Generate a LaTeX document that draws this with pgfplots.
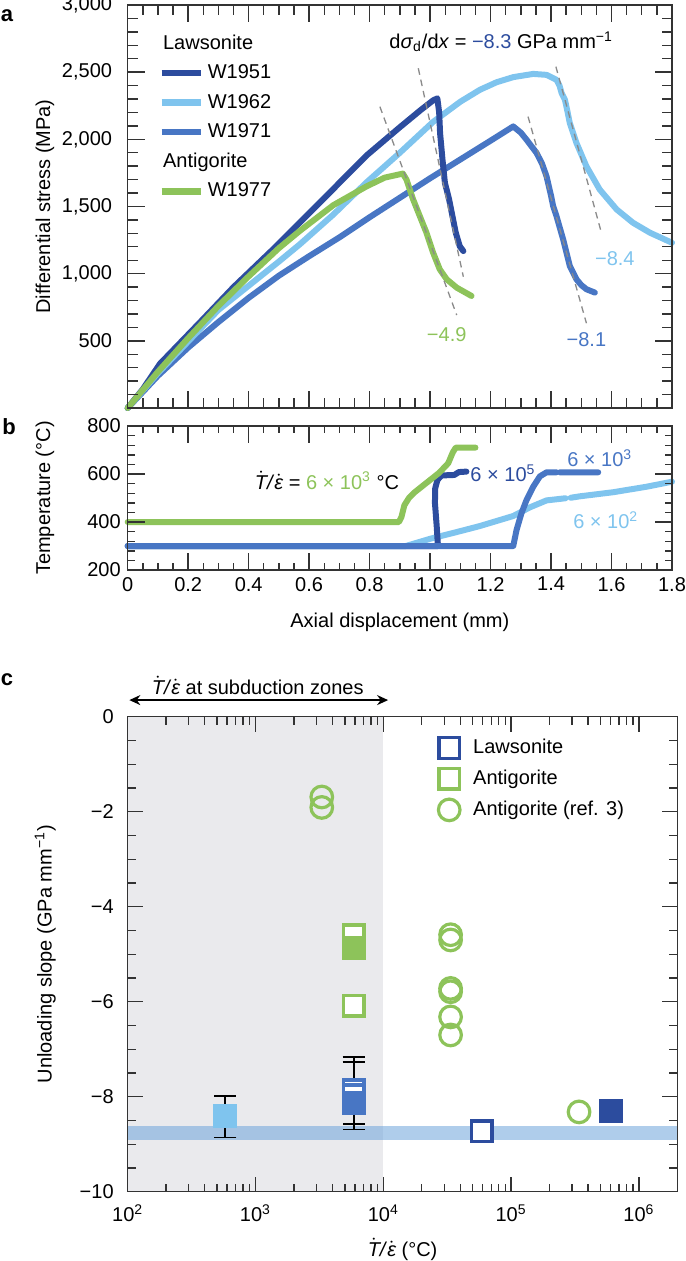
\documentclass[border=0pt]{standalone}
\usepackage{fontspec}
\setmainfont{Liberation Sans}
\usepackage{pgfplots}
\pgfplotsset{compat=1.18}
\usetikzlibrary{arrows.meta}

\definecolor{cDark}{HTML}{2C4C9E}
\definecolor{cLight}{HTML}{7FC4EE}
\definecolor{cMed}{HTML}{4876C4}
\definecolor{cGreen}{HTML}{8DC35A}
\definecolor{cShade}{HTML}{EAEAED}
\definecolor{cBand}{RGB}{110,164,219}
\definecolor{cFrame}{HTML}{333333}
\definecolor{cDash}{HTML}{8A8A8A}

\newcommand{\TE}{\ensuremath{\dot{\textit{T}}}\textit{/}\ensuremath{\dot{\textit{ε}}}}
\newcommand{\fs}{\fontsize{10}{12}\selectfont}

\pgfplotsset{
  common/.style={
    scale only axis,
    axis on top,
    axis line style={cFrame, line width=0.75pt},
    every tick/.style={cFrame, line width=0.7pt},
    tick align=inside,
    /pgf/number format/assume math mode=true,
    tick label style={font=\fs, text=black},
    label style={font=\fs},
  },
  ln/.style={line width=3pt, line cap=round, line join=round},
}

\begin{document}
\begin{tikzpicture}
\path[use as bounding box] (0pt,0pt) rectangle (342.5pt,-630.5pt);
\node[font=\bfseries\fontsize{11}{13}\selectfont] at (3.5pt,-8pt) {a};
\node[font=\bfseries\fontsize{11}{13}\selectfont] at (4.5pt,-213.5pt) {b};
\node[font=\bfseries\fontsize{11}{13}\selectfont] at (3.5pt,-340pt) {c};

% ---------------- panel a ----------------
\begin{axis}[common,
  at={(63.85pt,-204pt)}, anchor=south west,
  width=272.15pt, height=201.5pt,
  xmin=0, xmax=1.8, ymin=0, ymax=3000,
  xtick={0,0.2,0.4,0.6,0.8,1.0,1.2,1.4,1.6,1.8}, xticklabels={},
  minor x tick num=3,
  ytick={0,500,1000,1500,2000,2500,3000},
  yticklabels={{},500,{1,000},{1,500},{2,000},{2,500},{3,000}},
  minor y tick num=4,
  major tick length=8.5pt, minor tick length=5pt,
  yticklabel style={xshift=-4.3pt},
  ylabel={Differential stress (MPa)},
  ylabel style={at={(axis description cs:-0.152,0.5)}, anchor=center},
  clip=false,
  legend cell align=left,
  legend image code/.code={\draw[#1] (0pt,0pt) -- (19.5pt,0pt);},
  legend style={draw=none, fill=none, font=\fs,
    at={(axis description cs:0.0557,0.9375)}, anchor=north west,
    row sep=2.25pt, inner sep=0pt},
]
\addplot[forget plot, ln, cMed] coordinates {
(0,0) (0.1,240) (0.2,450) (0.3,640) (0.4,820) (0.5,985) (0.6,1130) (0.7,1270)
(0.8,1420) (0.9,1565) (1.0,1710) (1.1,1850) (1.2,1990) (1.275,2096) (1.3,2050)
(1.319,1997) (1.352,1899) (1.37,1820) (1.385,1725) (1.4,1580) (1.407,1502)
(1.418,1428) (1.44,1255) (1.462,1057) (1.484,958) (1.5,915) (1.517,884) (1.545,859)};
\addplot[forget plot, ln, cLight] coordinates {
(0,0) (0.1,260) (0.3,730) (0.5,1090) (0.57,1220) (0.68,1440) (0.79,1680) (0.9,1900)
(1.01,2130) (1.1,2280) (1.165,2369) (1.22,2425) (1.275,2463) (1.341,2487)
(1.385,2480) (1.418,2443) (1.428,2400) (1.435,2344) (1.446,2294) (1.455,2200)
(1.462,2121) (1.484,1973) (1.517,1799) (1.561,1626) (1.617,1478) (1.671,1379)
(1.727,1305) (1.8,1230)};
\addplot[forget plot, ln, cDark] coordinates {
(0,0) (0.05,140) (0.107,330) (0.24,640) (0.35,900) (0.48,1180) (0.64,1540)
(0.79,1880) (0.9,2090) (0.97,2220) (1.01,2290) (1.024,2305) (1.03,2200)
(1.033,2047) (1.041,1849) (1.049,1676) (1.063,1552) (1.074,1428) (1.085,1304)
(1.098,1205) (1.11,1168)};
\addplot[forget plot, ln, cGreen] coordinates {
(0,0) (0.1,270) (0.2,520) (0.3,760) (0.4,980) (0.5,1190) (0.57,1320) (0.68,1510)
(0.79,1650) (0.85,1715) (0.91,1745) (0.922,1700) (0.944,1552) (0.966,1428)
(0.988,1305) (1.01,1156) (1.032,1032) (1.055,958) (1.088,896) (1.137,834)};
\addplot[forget plot, cDash, line width=0.65pt, dash pattern=on 3.3pt off 2.5pt] coordinates {(0.834,2243) (1.088,692)};
\addplot[forget plot, cDash, line width=0.65pt, dash pattern=on 3.3pt off 2.5pt] coordinates {(0.961,2529) (1.110,977)};
\addplot[forget plot, cDash, line width=0.65pt, dash pattern=on 3.3pt off 2.5pt] coordinates {(1.324,2169) (1.517,631)};
\addplot[forget plot, cDash, line width=0.65pt, dash pattern=on 3.3pt off 2.5pt] coordinates {(1.416,2541) (1.567,1301)};

\addlegendimage{empty legend}\addlegendentry{\hspace*{-22.35pt}Lawsonite}
\addlegendimage{cDark, line width=3.2pt}\addlegendentry{W1951}
\addlegendimage{cLight, line width=3.2pt}\addlegendentry{W1962}
\addlegendimage{cMed, line width=3.2pt}\addlegendentry{W1971}
\addlegendimage{empty legend}\addlegendentry{\hspace*{-22.35pt}Antigorite}
\addlegendimage{cGreen, line width=3.2pt}\addlegendentry{W1977}

\node[font=\fs] at (axis cs:1.235,2725) {d\textit{σ}\textsubscript{d}/d\textit{x} = \textcolor{cDark}{−8.3} GPa mm\textsuperscript{−1}};
\node[font=\fs, text=cGreen] at (axis cs:1.055,543) {−4.9};
\node[font=\fs, text=cMed] at (axis cs:1.517,506) {−8.1};
\node[font=\fs, text=cLight] at (axis cs:1.611,1115) {−8.4};
\end{axis}

% ---------------- panel b ----------------
\begin{axis}[common,
  at={(63.85pt,-285pt)}, anchor=south west,
  width=272.15pt, height=72pt,
  xmin=0, xmax=1.8, ymin=200, ymax=800,
  xtick={0,0.2,0.4,0.6,0.8,1.0,1.2,1.4,1.6,1.8},
  xticklabels={0,0.2,0.4,0.6,0.8,1.0,1.2,1.4,1.6,1.8},
  minor x tick num=3,
  ytick={200,400,600,800}, minor y tick num=4,
  major tick length=8.5pt, minor tick length=3.5pt,
  xlabel={Axial displacement (mm)},
  xlabel style={at={(axis description cs:0.5,-0.36)}, anchor=center},
  ylabel={Temperature (°C)},
  ylabel style={at={(axis description cs:-0.152,0.5)}, anchor=center},
  unbounded coords=jump, clip=false,
]
\addplot[ln, cLight] coordinates {
(0,300) (0.92,300) (1.0,330) (1.1,362) (1.164,383) (1.275,425) (1.33,461) (1.385,490)
(1.448,499) (1.456,nan) (1.465,501) (1.495,507) (1.605,524) (1.716,547) (1.8,568)};
\addplot[ln, cDark] coordinates {
(0,300) (1.026,300) (1.022,380) (1.016,480) (1.017,540) (1.024,575) (1.038,594)
(1.08,596) (1.095,608) (1.12,610)};
\addplot[ln, cMed] coordinates {
(0,300) (1.275,300) (1.286,367) (1.302,436) (1.319,492) (1.341,547) (1.363,590)
(1.385,607) (1.418,607) (1.423,nan) (1.429,607) (1.556,607)};
\addplot[ln, cGreen] coordinates {
(0,400) (0.897,400) (0.905,420) (0.915,470) (0.93,500) (0.95,525) (0.97,545)
(1.0,575) (1.03,605) (1.06,645) (1.075,690) (1.085,710) (1.15,710)};
\node[font=\fs] at (axis cs:0.659,575) {\TE{} = \textcolor{cGreen}{6 × 10\textsuperscript{3}} °C};
\node[font=\fs, text=cDark] at (axis cs:1.241,604) {6 × 10\textsuperscript{5}};
\node[font=\fs, text=cMed] at (axis cs:1.561,667) {6 × 10\textsuperscript{3}};
\node[font=\fs, text=cLight] at (axis cs:1.581,408) {6 × 10\textsuperscript{2}};
\end{axis}

% ---------------- panel c ----------------
\begin{axis}[common, xmode=log,
  at={(63.85pt,-595.85pt)}, anchor=south west,
  width=274.85pt, height=237.5pt,
  xmin=100, xmax=2e6, ymin=-10, ymax=0,
  xtick={1e2,1e3,1e4,1e5,1e6},
  xticklabels={10\textsuperscript{2},10\textsuperscript{3},10\textsuperscript{4},10\textsuperscript{5},10\textsuperscript{6}},
  minor xtick={200,300,400,500,600,700,800,900,2000,3000,4000,5000,6000,7000,8000,9000,
    20000,30000,40000,50000,60000,70000,80000,90000,200000,300000,400000,500000,600000,700000,800000,900000},
  ytick={-10,-8,-6,-4,-2,0},
  yticklabels={−10,−8,−6,−4,−2,0},
  minor y tick num=3,
  major tick length=7.5pt, minor tick length=4pt,
  yticklabel style={xshift=-3.5pt},
  xticklabel style={yshift=-3pt},
  xlabel={\TE{} (°C)},
  xlabel style={at={(axis description cs:0.5,-0.122)}, anchor=center},
  ylabel={Unloading slope (GPa mm\textsuperscript{−1})},
  ylabel style={at={(axis description cs:-0.150,0.5)}, anchor=center},
  clip=false,
  legend cell align=left,
  legend image code/.code={\draw[#1] plot coordinates {(0pt,0pt)}; \path (10pt,0pt);},
  legend style={draw=none, fill=none, font=\fs,
    at={(axis description cs:0.5645,0.962)}, anchor=north west,
    row sep=2.75pt, inner sep=0pt},
]
\addplot[forget plot, draw=none, fill=cShade] coordinates {(100,-10) (100,0) (10000,0) (10000,-10)} -- cycle;
\addplot[forget plot, draw=none, fill=cBand, fill opacity=0.55] coordinates {(100,-8.61) (2e6,-8.61) (2e6,-8.91) (100,-8.91)} -- cycle;
\addplot[forget plot, draw=none, mark=none,
  error bars/.cd, y dir=both, y explicit, error mark=|,
  error bar style={draw=black, solid, line width=0.9pt},
  error mark options={draw=black, solid, line width=0.9pt, mark size=5.5pt}]
  coordinates {(580,-8.40) += (0,0.42) -= (0,0.46)
               (5860,-8.13) += (0,0.97) -= (0,0.56)
               (5860,-7.97) += (0,0.70) -= (0,0.61)};
\addplot[forget plot, only marks, mark=square*, mark size=5.15pt, mark options={draw=cMed, fill=white, line width=1.7pt, solid}] coordinates {(5860,-7.865) (5860,-7.97)};
\addplot[forget plot, only marks, mark=square*, mark size=5.15pt, mark options={draw=cMed, fill=cMed, line width=1.7pt, solid}] coordinates {(5860,-8.13)};
\addplot[forget plot, only marks, mark=square*, mark size=5.15pt, mark options={draw=cLight, fill=cLight, line width=1.7pt, solid}] coordinates {(580,-8.40)};
\addplot[forget plot, only marks, mark=square*, mark size=5.15pt, mark options={draw=cDark, fill=white, line width=1.7pt, solid}] coordinates {(59000,-8.73)};
\addplot[forget plot, only marks, mark=square*, mark size=5.15pt, mark options={draw=cDark, fill=cDark, line width=1.7pt, solid}] coordinates {(600000,-8.31)};
\addplot[forget plot, only marks, mark=square*, mark size=5.15pt, mark options={draw=cGreen, fill=white, line width=1.7pt, solid}] coordinates {(5860,-4.60) (5860,-6.08)};
\addplot[forget plot, only marks, mark=square*, mark size=5.15pt, mark options={draw=cGreen, fill=cGreen, line width=1.7pt, solid}] coordinates {(5860,-4.87)};
\addplot[forget plot, only marks, mark=o, mark size=5.4pt, mark options={draw=cGreen, line width=1.6pt, solid}] coordinates {
(3300,-1.69) (3300,-1.91) (33600,-4.59) (33600,-4.70) (33600,-5.72) (33600,-5.79)
(33600,-6.32) (33600,-6.70) (340000,-8.32)};

\addlegendimage{draw=none, mark=square*, mark size=5.15pt, mark options={draw=cDark, fill=white, line width=1.7pt, solid}}\addlegendentry{Lawsonite}
\addlegendimage{draw=none, mark=square*, mark size=5.15pt, mark options={draw=cGreen, fill=white, line width=1.7pt, solid}}\addlegendentry{Antigorite}
\addlegendimage{draw=none, mark=o, mark size=5.4pt, mark options={draw=cGreen, line width=1.6pt, solid}}\addlegendentry{Antigorite (ref. 3)}

\draw[{Stealth[length=5.5pt,width=5pt]}-{Stealth[length=5.5pt,width=5pt]}, line width=0.8pt] (axis cs:103,0.35) -- (axis cs:10900,0.35);
\node[font=\fs] at (axis cs:1040,0.667) {\TE{} at subduction zones};
\end{axis}
\end{tikzpicture}
\end{document}
